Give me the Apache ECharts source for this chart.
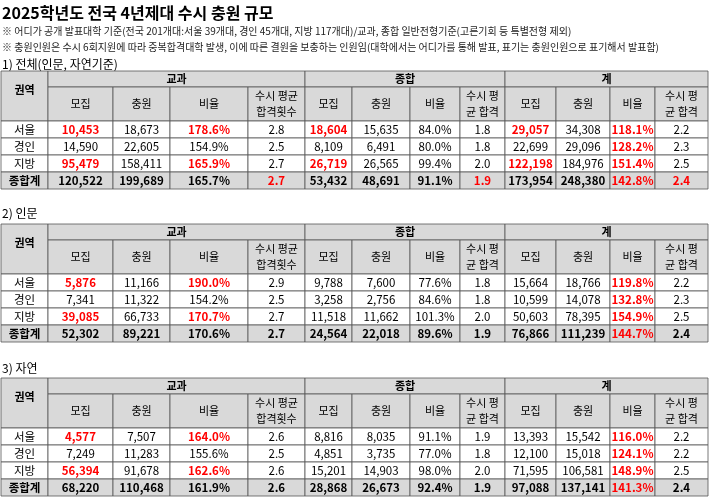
<!DOCTYPE html><html><head><meta charset="utf-8"><script src="https://cdn.jsdelivr.net/npm/echarts@6/dist/echarts.min.js"></script>
<style>html,body{margin:0;padding:0;background:#fff}#c{width:710px;height:497px}</style></head><body><div id="c"></div><script>
const title='2025학년도 전국 4년제대 수시 충원 규모';
const notes=['※ 어디가 공개 발표대학 기준(전국 201개대:서울 39개대, 경인 45개대, 지방 117개대)/교과, 종합 일반전형기준(고른기회 등 특별전형 제외)',
'※ 충원인원은 수시 6회지원에 따라 중복합격대학 발생, 이에 따른 결원을 보충하는 인원임(대학에서는 어디가를 통해 발표, 표기는 충원인원으로 표기해서 발표함)'];
const sections=['1) 전체(인문, 자연기준)','2) 인문','3) 자연'];
const groups=['교과','종합','계'];
const regions=['서울','경인','지방','종합계'];
const t1=[
['10,453','18,673','178.6%','2.8','18,604','15,635','84.0%','1.8','29,057','34,308','118.1%','2.2'],
['14,590','22,605','154.9%','2.5','8,109','6,491','80.0%','1.8','22,699','29,096','128.2%','2.3'],
['95,479','158,411','165.9%','2.7','26,719','26,565','99.4%','2.0','122,198','184,976','151.4%','2.5'],
['120,522','199,689','165.7%','2.7','53,432','48,691','91.1%','1.9','173,954','248,380','142.8%','2.4']];
const t2=[
['5,876','11,166','190.0%','2.9','9,788','7,600','77.6%','1.8','15,664','18,766','119.8%','2.2'],
['7,341','11,322','154.2%','2.5','3,258','2,756','84.6%','1.8','10,599','14,078','132.8%','2.3'],
['39,085','66,733','170.7%','2.7','11,518','11,662','101.3%','2.0','50,603','78,395','154.9%','2.5'],
['52,302','89,221','170.6%','2.7','24,564','22,018','89.6%','1.9','76,866','111,239','144.7%','2.4']];
const t3=[
['4,577','7,507','164.0%','2.6','8,816','8,035','91.1%','1.9','13,393','15,542','116.0%','2.2'],
['7,249','11,283','155.6%','2.5','4,851','3,735','77.0%','1.8','12,100','15,018','124.1%','2.2'],
['56,394','91,678','162.6%','2.6','15,201','14,903','98.0%','2.0','71,595','106,581','148.9%','2.5'],
['68,220','110,468','161.9%','2.6','28,868','26,673','92.4%','1.9','97,088','137,141','141.3%','2.4']];
const tables=[t1,t2,t3];
const reds=[
['0-0','0-2','2-0','2-2','0-4','2-4','0-8','2-8','0-10','1-10','2-10','3-10','3-3','3-7','3-11'],
['0-0','0-2','2-0','2-2','0-10','1-10','2-10','3-10'],
['0-0','0-2','2-0','2-2','0-10','1-10','2-10','3-10']];
const xs=[1,48,113,170,248,305,352,410,460,505,556,610,655,708];
const tops=[71,224,378], secY=[64,213,368];
const F='"Noto Sans CJK KR","Malgun Gothic",sans-serif';
const els=[];
function txt(x,y,s,o){els.push({type:'text',x,y,style:Object.assign({text:s,font:(o&&o.font)||'11px '+F,fill:(o&&o.fill)||'#000',align:(o&&o.align)||'center',verticalAlign:'middle',lineHeight:(o&&o.lh)||14})});}
function rect(x,y,w,h,fill){els.push({type:'rect',shape:{x,y,width:w,height:h},style:{fill,stroke:'#555',lineWidth:0.8}});}
txt(2,13,title,{font:'bold 16px '+F,align:'left'});
txt(2,31,notes[0],{font:'10px '+F,align:'left',fill:'#222'});
txt(2,47,notes[1],{font:'10px '+F,align:'left',fill:'#222'});
tables.forEach((tb,ti)=>{
  const T=tops[ti];
  txt(2,secY[ti],sections[ti],{font:'12px '+F,align:'left'});
  const h1=16,h2=34,rh=17;
  const y2=T+h1,y3=y2+h2;
  rect(xs[0],T,xs[1]-xs[0],h1+h2,'#d9d9d9');
  txt((xs[0]+xs[1])/2,T+(h1+h2)/2-6,'권역',{font:'bold 11px '+F});
  groups.forEach((g,gi)=>{
    const a=xs[1+gi*4],b=xs[5+gi*4];
    rect(a,T,b-a,h1,'#d9d9d9');txt((a+b)/2,T+h1/2,g,{font:'bold 11px '+F});
    const subs=['모집','충원','비율',gi==0?'수시 평균\n합격횟수':'수시 평\n균 합격'];
    subs.forEach((s,si)=>{const x0=xs[1+gi*4+si],x1=xs[2+gi*4+si];
      rect(x0,y2,x1-x0,h2,'#d9d9d9');txt((x0+x1)/2,y2+h2/2,s,{font:'11px '+F,lh:16});});
  });
  const rs=new Set(reds[ti]);
  tb.forEach((row,ri)=>{
    const y=y3+ri*rh, tot=ri==3;
    rect(xs[0],y,xs[1]-xs[0],rh,tot?'#d9d9d9':'#fff');
    txt((xs[0]+xs[1])/2,y+rh/2,regions[ri],{font:(tot?'bold ':'')+'11.5px '+F});
    row.forEach((v,ci)=>{const x0=xs[1+ci],x1=xs[2+ci];const red=rs.has(ri+'-'+ci);
      rect(x0,y,x1-x0,rh,tot?'#d9d9d9':'#fff');
      txt((x0+x1)/2,y+rh/2,v,{font:((tot||red)?'bold ':'')+'11.5px '+F,fill:red?'#ff0000':'#000'});});
  });
});
const ch=echarts.init(document.getElementById('c'));
ch.setOption({animation:false,graphic:{elements:els}});
</script></body></html>
